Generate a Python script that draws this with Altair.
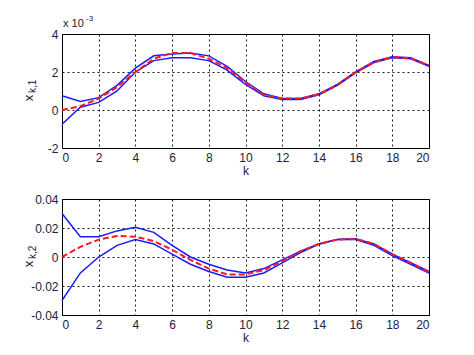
import altair as alt
import pandas as pd

k = list(range(21))

# Panel 1 (units of 1e-3)
p1_upper = [0.75, 0.45, 0.65, 1.3, 2.2, 2.85, 2.95, 3.0, 2.85, 2.3, 1.5, 0.85, 0.6, 0.6, 0.85, 1.35, 2.0, 2.55, 2.8, 2.75, 2.35]
p1_lower = [-0.75, 0.15, 0.4, 1.0, 2.0, 2.6, 2.75, 2.75, 2.6, 2.1, 1.35, 0.75, 0.55, 0.55, 0.8, 1.3, 1.95, 2.5, 2.75, 2.7, 2.3]
p1_est = [0.0, 0.2, 0.6, 1.2, 2.0, 2.7, 3.0, 3.0, 2.7, 2.2, 1.45, 0.8, 0.6, 0.6, 0.82, 1.3, 1.98, 2.52, 2.78, 2.72, 2.33]

# Panel 2
p2_upper = [0.030, 0.014, 0.014, 0.018, 0.0205, 0.017, 0.008, 0.0, -0.005, -0.009, -0.011, -0.008, -0.002, 0.004, 0.009, 0.012, 0.0125, 0.009, 0.002, -0.004, -0.010]
p2_lower = [-0.030, -0.011, 0.0, 0.008, 0.012, 0.009, 0.002, -0.005, -0.010, -0.014, -0.014, -0.011, -0.004, 0.003, 0.009, 0.012, 0.012, 0.008, 0.001, -0.005, -0.011]
p2_est = [0.0, 0.007, 0.012, 0.0145, 0.014, 0.011, 0.005, -0.002, -0.008, -0.012, -0.012, -0.009, -0.003, 0.004, 0.009, 0.012, 0.0125, 0.009, 0.002, -0.004, -0.0105]

x_ticks = list(range(0, 21, 2))
p1_yticks = [-2, 0, 2, 4]
p2_yticks = [-0.04, -0.02, 0, 0.02, 0.04]

FONT = "Liberation Sans"
TXT = "#22223a"
W = 367


def panel(upper, lower, est, ydom, yticks, sub, h):
    blue = pd.DataFrame({"k": k * 2, "v": upper + lower, "s": ["upper"] * 21 + ["lower"] * 21})
    red = pd.DataFrame({"k": k, "v": est})
    xenc = alt.X("k:Q", scale=alt.Scale(domain=[0, 20], nice=False, zero=False),
                 axis=alt.Axis(values=x_ticks, title="k", labelExpr="'' + datum.value"))
    yenc = alt.Y("v:Q", scale=alt.Scale(domain=ydom, nice=False, zero=False),
                 axis=alt.Axis(values=yticks, title=None, labelExpr="'' + datum.value"))
    b = alt.Chart(blue).mark_line(color="#1a1aff", strokeWidth=1.5).encode(x=xenc, y=yenc, detail="s:N")
    r = alt.Chart(red).mark_line(color="#ff1a1a", strokeWidth=2, strokeDash=[6, 3]).encode(x=xenc, y=yenc)
    one = pd.DataFrame({"t": [""]})
    tx = alt.Chart(one).mark_text(text="x", angle=270, font=FONT, fontSize=13, color=TXT,
                                  align="center", baseline="middle").encode(
        x=alt.value(-33), y=alt.value(h / 2 + 7))
    ts = alt.Chart(one).mark_text(text=sub, angle=270, font=FONT, fontSize=10, color=TXT,
                                  align="left", baseline="middle").encode(
        x=alt.value(-29), y=alt.value(h / 2 + 2))
    layers = [b, r, tx, ts]
    return alt.layer(*layers).properties(width=W, height=h)


top = panel(p1_upper, p1_lower, p1_est, [-2, 4], p1_yticks, "k,1", 114)
one = pd.DataFrame({"t": [""]})
mult = alt.Chart(one).mark_text(text="x 10", font=FONT, fontSize=11, color=TXT,
                                align="left", baseline="alphabetic").encode(
    x=alt.value(1), y=alt.value(-7))
mexp = alt.Chart(one).mark_text(text="-3", font=FONT, fontSize=8, color=TXT,
                                align="left", baseline="alphabetic").encode(
    x=alt.value(24), y=alt.value(-13))
top = alt.layer(top, mult, mexp)
bottom = panel(p2_upper, p2_lower, p2_est, [-0.04, 0.04], p2_yticks, "k,2", 116)

chart = alt.vconcat(top, bottom, spacing=15).properties(
    padding={"left": 22, "top": 14, "right": 40, "bottom": 5},
    background="white",
).configure_view(stroke="black", strokeWidth=1).configure_axis(
    grid=True, gridColor="black", gridDash=[2, 3], gridOpacity=0.9, gridWidth=1,
    domain=False, ticks=False, labelFont=FONT, labelFontSize=12, labelColor=TXT,
    labelPadding=4, titleFont=FONT, titleFontSize=12, titleFontWeight="normal",
    titleColor=TXT, titlePadding=2,
)

chart.save("out.html", embed_options={"renderer": "svg", "actions": False})
